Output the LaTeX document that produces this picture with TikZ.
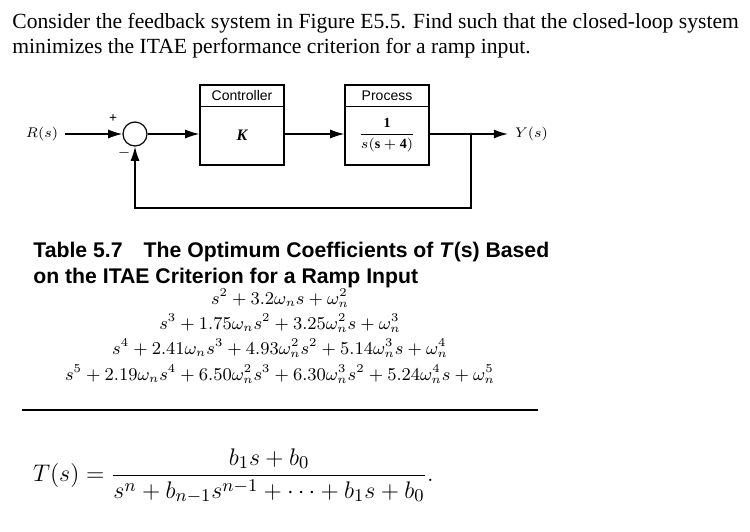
\documentclass[tikz,border=0pt]{standalone}
\usepackage{amsmath}
\usepackage{fontspec}
\setmainfont{Liberation Serif}
\newfontfamily\headfont{Liberation Sans}
\usetikzlibrary{positioning,arrows.meta}
\begin{document}
\begin{tikzpicture}[x=0.5pt,y=-0.5pt,
    blk/.style={draw, line width=0.6pt, minimum width=42pt, minimum height=40pt},
    hdr/.style={font=\fontsize{7}{8}\headfont},
    sig/.style={font=\fontsize{7}{8}\selectfont\itshape},
    arrow/.style={-{Latex[length=2.5mm,width=1.6mm]}, line width=0.8pt},
    row/.style={font=\fontsize{9}{10}\selectfont},
]
\useasboundingbox (0,0) rectangle (750,531);
% problem text
\node[anchor=north west, align=left, inner sep=0pt, font=\fontsize{10.8}{12.5}\selectfont] (task) at (12,13)
  {Consider the feedback system in Figure E5.5. Find such that the closed-loop system\\
   minimizes the ITAE performance criterion for a ramp input.};

% block diagram
\node[sig] (r) at (42,134) {$R(s)$};
\node[draw, circle, minimum size=12pt, inner sep=0pt, line width=0.6pt] (sum) at (135,134) {};
\node[blk] (ctrl) at (242,125) {};
\node[blk] (proc) at (387,125) {};
\draw[line width=0.6pt] ([yshift=-11pt]ctrl.north west) -- ([yshift=-11pt]ctrl.north east);
\draw[line width=0.6pt] ([yshift=-11pt]proc.north west) -- ([yshift=-11pt]proc.north east);
\node[hdr] at ([yshift=-5.5pt]ctrl.north) {Controller};
\node[hdr] at ([yshift=-5.5pt]proc.north) {Process};
\node[font=\fontsize{8}{9}\selectfont\bfseries\itshape] at ([yshift=-5pt]ctrl.center) {K};
\node[font=\fontsize{7}{8}\selectfont\bfseries] at ([yshift=-5pt]proc.center)
  {$\dfrac{\mathbf{1}}{s(\mathbf{s+4})}$};
\coordinate (tap) at (471,134);
\node[sig, anchor=west] (y) at (508,134) {$Y(s)$};
\draw[arrow] (r) -- (sum);
\draw[arrow] (sum) -- (ctrl.west |- sum);
\draw[arrow] (ctrl.east |- sum) -- (proc.west |- sum);
\draw[arrow] (proc.east |- sum) -- (y);
\fill (tap) circle (1.5);
\draw[arrow] (tap) -- ++(0,74) -| (sum.south);
\node[font=\bfseries\scriptsize] at (113,119) {+};
\node[font=\bfseries\scriptsize] at (124,153) {$-$};

% table
\node[anchor=north west, align=left, inner sep=0pt, font=\fontsize{10.6}{13}\headfont\bfseries] (tab) at (33,242)
  {Table 5.7\quad The Optimum Coefficients of \textit{T}(s) Based\\
   on the ITAE Criterion for a Ramp Input};
\node[row] (r1) at (280,298) {$s^2 + 3.2\omega_n s + \omega_n^2$};
\node[row] (r2) at (280,323) {$s^3 + 1.75\omega_n s^2 + 3.25\omega_n^2 s + \omega_n^3$};
\node[row] (r3) at (280,348) {$s^4 + 2.41\omega_n s^3 + 4.93\omega_n^2 s^2 + 5.14\omega_n^3 s + \omega_n^4$};
\node[row] (r4) at (280,374) {$s^5 + 2.19\omega_n s^4 + 6.50\omega_n^2 s^3 + 6.30\omega_n^3 s^2 + 5.24\omega_n^4 s + \omega_n^5$};
\draw[line width=0.8pt] (22,410) -- (538,410);
\node[anchor=west, font=\fontsize{12.5}{14}\selectfont] (tf) at (26,476)
  {$T(s) = \dfrac{b_1 s + b_0}{s^n + b_{n-1}s^{n-1} + \cdots + b_1 s + b_0}.$};
\end{tikzpicture}
\end{document}
